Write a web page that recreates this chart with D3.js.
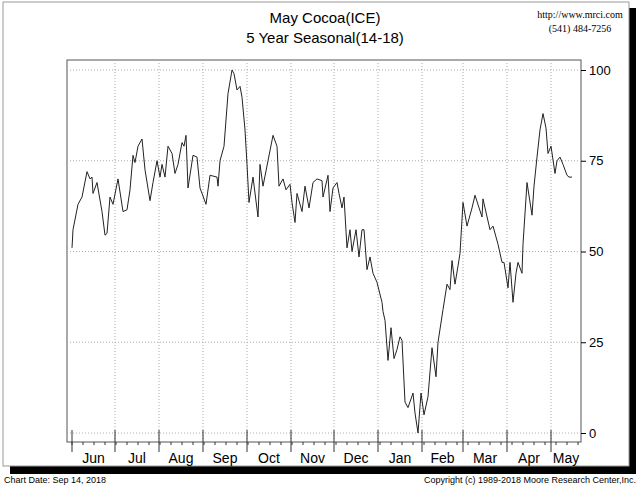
<!DOCTYPE html><html><head><meta charset="utf-8"><script src="https://cdn.jsdelivr.net/npm/d3@7"></script>
<style>body{margin:0;background:#fff}svg{display:block}</style></head><body><svg id="c" width="640" height="486"></svg>
<script>
const months=["Jun","Jul","Aug","Sep","Oct","Nov","Dec","Jan","Feb","Mar","Apr","May"];
const monthStart=[0,43,87,131,175,219,262,306,350,391,435,479]; // day index of month boundaries
const yTicks=[0,25,50,75,100];
const days=[0,1,6,10,15,18,20,21,25,30,33,35,38,41,46,51,55,58,61,63,66,70,73,78,81,85,88,90,93,96,100,103,106,110,112,114,116,121,125,128,134,138,145,146,148,152,156,160,162,165,168,170,173,175,177,181,186,188,191,196,201,205,207,211,214,218,220,223,225,230,233,237,241,245,250,251,256,258,261,265,267,270,272,275,278,280,284,287,290,292,295,298,301,305,310,311,313,316,319,322,325,328,330,333,336,341,343,346,349,352,356,360,364,366,371,375,378,380,383,386,388,391,395,400,403,410,411,413,418,421,426,430,432,436,438,441,444,446,450,451,455,460,462,465,468,471,474,476,479,483,485,488,491,495,497,500];
const vals=[51,56,63,65,72,70,70.5,66,69,61,54.5,55,65,63,70,61,61.5,67,76.5,74.5,79,81,72.5,64,69,75,70.5,74,70.5,79,77,71.5,74,80,79,82,67.5,76.5,76,67.5,63,71,70.5,68,75,79,93.5,100,99,94.5,95.5,92.5,83.5,74,63.5,70.5,59.5,74,68,75,82,79,68,70,67,68.5,63.5,58,66,61,68,62,69,70,69.5,65,71,61,67.5,69,66,62,65,51,56,50,56,48.5,56,56,45,48.5,44,41.5,36,33.5,31,20,29,20.5,23,26.5,25.5,8.5,7,11,5.5,0,11,5,10,23.5,15.5,25,34,41,39.5,47.5,41,46,49.5,63.5,57,62,65.5,59.5,64.5,62,56,57,52,47,47,40,47,36,44,47,44,52,69,60,68,76,83.5,88,84,77,79,71.5,75,76,74,71,70.5,70.5];
const svg=d3.select("#c");
// frame with shadow
svg.append("rect").attr("x",10).attr("y",8).attr("width",626).attr("height",466).attr("fill","#000");
svg.append("rect").attr("x",3).attr("y",2).attr("width",626).attr("height",464).attr("fill","#fff").attr("stroke","#999");
const L=67,R=581,T=60,B=442;
const x=d3.scaleLinear().domain([0,509]).range([72,581]);
const y=d3.scaleLinear().domain([0,100]).range([433,70]);
svg.append("rect").attr("x",L).attr("y",T).attr("width",R-L).attr("height",B-T).attr("fill","none").attr("stroke","#555");
const g=svg.append("g").attr("stroke","#aaa").attr("stroke-dasharray","1,2");
yTicks.forEach(v=>g.append("line").attr("x1",L).attr("x2",R).attr("y1",y(v)).attr("y2",y(v)));
monthStart.slice(1).forEach(d=>g.append("line").attr("x1",x(d)).attr("x2",x(d)).attr("y1",T).attr("y2",B));
// right axis
const ya=svg.append("g").attr("transform",`translate(${R},0)`).call(d3.axisRight(y).tickValues(yTicks).tickSize(5).tickPadding(3));
ya.select(".domain").remove();
ya.selectAll("text").attr("font-family","Liberation Sans, Arial").attr("font-size",13).attr("fill","#000");
// bottom ticks
const bt=svg.append("g").attr("stroke","#333");
d3.range(0,509,11).forEach(d=>bt.append("line").attr("x1",x(d)).attr("x2",x(d)).attr("y1",B).attr("y2",B+3));
monthStart.forEach(d=>bt.append("line").attr("x1",x(d)).attr("x2",x(d)).attr("y1",B-12).attr("y2",B+10));
months.forEach((m,i)=>{const a=monthStart[i],b=i<11?monthStart[i+1]:509;
 svg.append("text").attr("x",x((a+b)/2)).attr("y",B+21).attr("text-anchor","middle").attr("font-family","Liberation Sans, Arial").attr("font-size",14).text(m);});
// line
svg.append("path").datum(days.map((d,i)=>[d,vals[i]])).attr("fill","none").attr("stroke","#222").attr("stroke-width",1)
 .attr("d",d3.line().x(d=>x(d[0])).y(d=>y(d[1])));
// titles
const t=(tx,xx,yy,sz,anc,fam)=>svg.append("text").attr("x",xx).attr("y",yy).attr("font-size",sz).attr("text-anchor",anc).attr("font-family",fam||"Liberation Sans, Arial").text(tx);
t("May Cocoa(ICE)",325,23,15,"middle");
t("5 Year Seasonal(14-18)",325,43,15,"middle");
t("http://www.mrci.com",580,18,10,"middle","Liberation Serif, Times");
t("(541) 484-7256",580,32,10,"middle","Liberation Serif, Times");
t("Chart Date: Sep 14, 2018",4,483,9,"start");
t("Copyright (c) 1989-2018 Moore Research Center,Inc.",636,483,9,"end");
</script></body></html>
